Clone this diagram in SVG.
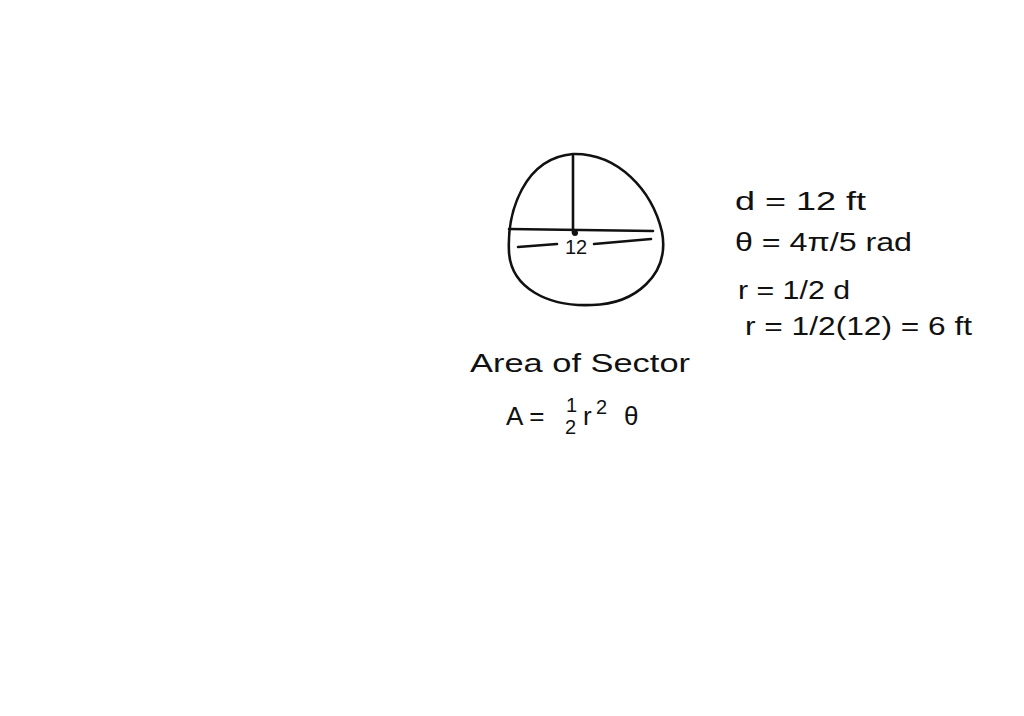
<svg xmlns="http://www.w3.org/2000/svg" width="1024" height="716" viewBox="0 0 1024 716">
<style>
.ink{fill:none;stroke:#111;stroke-width:2.6;stroke-linecap:round;stroke-linejoin:round}
.t{font-family:"Liberation Sans","DejaVu Sans",sans-serif;fill:#111;font-size:26px}
.s{font-size:20px}
</style>
<rect width="1024" height="716" fill="#fff"/>
<g id="circle">
<path class="ink" d="M573,154 C618,153 652,190 662,232 C670,275 635,304 592,305 C548,307 511,288 509,252 C507,212 524,158 573,154 Z"/>
<path class="ink" d="M573,156 L573,233"/>
<path class="ink" d="M509,229 L653,231"/>
<circle cx="575" cy="233" r="3" fill="#111"/>
<path class="ink" d="M518,247 L557,244"/>
<path class="ink" d="M594,244 L651,239"/>
<text class="t" x="576" y="254" style="font-size:20px" text-anchor="middle">12</text>
</g>
<g id="area">
<text class="t" x="470" y="372" textLength="220" lengthAdjust="spacingAndGlyphs">Area of Sector</text>
<text class="t" x="506" y="425">A =<tspan class="s" x="566" dy="-13">1</tspan><tspan class="s" x="565" dy="22">2</tspan><tspan x="583" dy="-9">r</tspan><tspan class="s" x="596" dy="-11">2</tspan><tspan x="624" dy="11">θ</tspan></text>
</g>
<g id="given">
<text class="t" x="735" y="210" textLength="131" lengthAdjust="spacingAndGlyphs">d = 12 ft</text>
<text class="t" x="735" y="251" textLength="177" lengthAdjust="spacingAndGlyphs">θ = 4π/5 rad</text>
<text class="t" x="738" y="299" textLength="112" lengthAdjust="spacingAndGlyphs">r = 1/2 d</text>
<text class="t" x="745" y="335" textLength="227" lengthAdjust="spacingAndGlyphs">r = 1/2(12) = 6 ft</text>
</g>
</svg>
